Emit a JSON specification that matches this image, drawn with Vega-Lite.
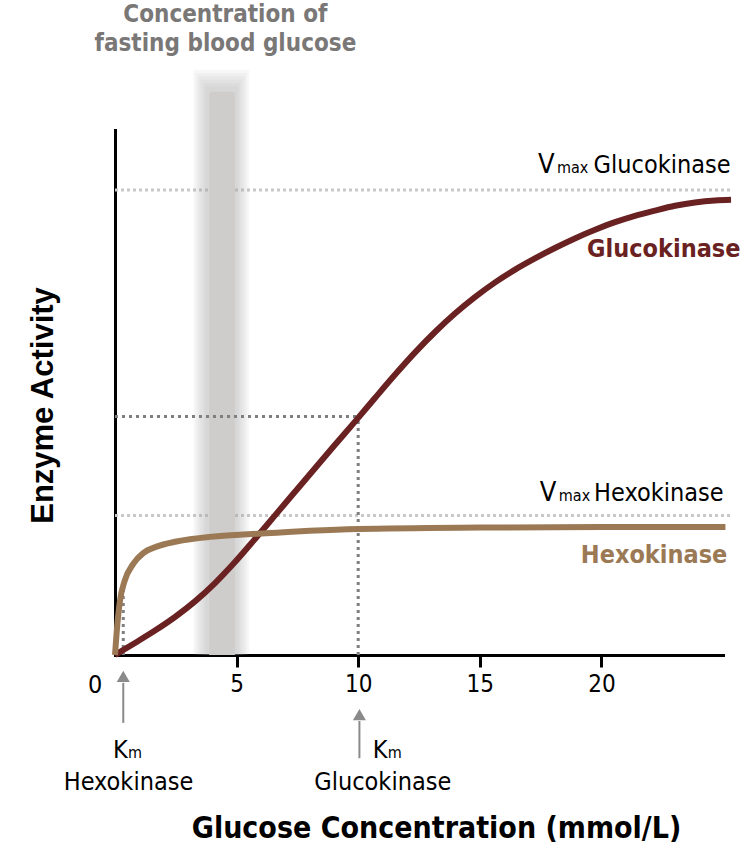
{
  "$schema": "https://vega.github.io/schema/vega-lite/v6.json",
  "width": 608,
  "height": 525,
  "autosize": {"type": "none"},
  "padding": {"left": 115, "top": 130, "right": 20, "bottom": 190},
  "background": "white",
  "config": {"view": {"stroke": null}, "font": "DejaVu Sans Condensed, DejaVu Sans"},
  "datasets": {
    "curves": [
      {"enzyme": "Glucokinase", "x": 0, "y": 0},
      {"enzyme": "Glucokinase", "x": 0.822, "y": 2.58},
      {"enzyme": "Glucokinase", "x": 1.645, "y": 5.25},
      {"enzyme": "Glucokinase", "x": 2.467, "y": 8.17},
      {"enzyme": "Glucokinase", "x": 3.289, "y": 11.53},
      {"enzyme": "Glucokinase", "x": 4.112, "y": 15.48},
      {"enzyme": "Glucokinase", "x": 4.934, "y": 20.0},
      {"enzyme": "Glucokinase", "x": 5.757, "y": 24.95},
      {"enzyme": "Glucokinase", "x": 6.579, "y": 30.02},
      {"enzyme": "Glucokinase", "x": 7.401, "y": 35.1},
      {"enzyme": "Glucokinase", "x": 8.224, "y": 40.17},
      {"enzyme": "Glucokinase", "x": 9.046, "y": 45.2},
      {"enzyme": "Glucokinase", "x": 9.868, "y": 50.19},
      {"enzyme": "Glucokinase", "x": 10.69, "y": 55.27},
      {"enzyme": "Glucokinase", "x": 11.51, "y": 60.26},
      {"enzyme": "Glucokinase", "x": 12.34, "y": 65.08},
      {"enzyme": "Glucokinase", "x": 13.16, "y": 69.46},
      {"enzyme": "Glucokinase", "x": 13.98, "y": 73.42},
      {"enzyme": "Glucokinase", "x": 14.8, "y": 76.95},
      {"enzyme": "Glucokinase", "x": 15.63, "y": 80.13},
      {"enzyme": "Glucokinase", "x": 16.45, "y": 82.88},
      {"enzyme": "Glucokinase", "x": 17.27, "y": 85.29},
      {"enzyme": "Glucokinase", "x": 18.09, "y": 87.53},
      {"enzyme": "Glucokinase", "x": 18.91, "y": 89.59},
      {"enzyme": "Glucokinase", "x": 19.74, "y": 91.44},
      {"enzyme": "Glucokinase", "x": 20.56, "y": 93.08},
      {"enzyme": "Glucokinase", "x": 21.38, "y": 94.45},
      {"enzyme": "Glucokinase", "x": 22.2, "y": 95.57},
      {"enzyme": "Glucokinase", "x": 23.03, "y": 96.6},
      {"enzyme": "Glucokinase", "x": 23.85, "y": 97.33},
      {"enzyme": "Glucokinase", "x": 24.67, "y": 97.76},
      {"enzyme": "Glucokinase", "x": 25.33, "y": 97.89},
      {"enzyme": "Hexokinase", "x": 0, "y": 0},
      {"enzyme": "Hexokinase", "x": 0.07, "y": 5},
      {"enzyme": "Hexokinase", "x": 0.2, "y": 11.5},
      {"enzyme": "Hexokinase", "x": 0.4, "y": 16},
      {"enzyme": "Hexokinase", "x": 0.75, "y": 19.6},
      {"enzyme": "Hexokinase", "x": 1.16, "y": 21.9},
      {"enzyme": "Hexokinase", "x": 1.71, "y": 23.3},
      {"enzyme": "Hexokinase", "x": 2.53, "y": 24.4},
      {"enzyme": "Hexokinase", "x": 3.9, "y": 25.4},
      {"enzyme": "Hexokinase", "x": 5.27, "y": 25.9},
      {"enzyme": "Hexokinase", "x": 6.64, "y": 26.3},
      {"enzyme": "Hexokinase", "x": 8, "y": 26.7},
      {"enzyme": "Hexokinase", "x": 10, "y": 27.1},
      {"enzyme": "Hexokinase", "x": 15, "y": 27.4},
      {"enzyme": "Hexokinase", "x": 20, "y": 27.5},
      {"enzyme": "Hexokinase", "x": 25.1, "y": 27.5}
    ],
    "guides": [
      {"kind": "vmax", "x": 0, "x2": 25.4, "y": 100, "y2": 100},
      {"kind": "vmax", "x": 0, "x2": 25.3, "y": 30, "y2": 30},
      {"kind": "km", "x": 0, "x2": 10, "y": 51.3, "y2": 51.3},
      {"kind": "km", "x": 10, "x2": 10, "y": 0, "y2": 51.3},
      {"kind": "km", "x": 0.34, "x2": 0.34, "y": 0, "y2": 15.5}
    ],
    "band": [
      {"kind": "glow", "x": 3.22, "x2": 5.52, "y": 125.8},
      {"kind": "glow", "x": 3.32, "x2": 5.42, "y": 125.1},
      {"kind": "glow", "x": 3.42, "x2": 5.32, "y": 124.4},
      {"kind": "glow", "x": 3.52, "x2": 5.22, "y": 123.7},
      {"kind": "glow", "x": 3.62, "x2": 5.13, "y": 123.0},
      {"kind": "glow", "x": 3.72, "x2": 5.05, "y": 122.3},
      {"kind": "core", "x": 3.87, "x2": 4.93, "y": 121.1}
    ],
    "arrows": [
      {"part": "shaft", "x": 0.34, "y": -14.6, "y2": -6.0},
      {"part": "head", "x": 0.34, "y": -4.6},
      {"part": "shaft", "x": 10.05, "y": -22.2, "y2": -14.2},
      {"part": "head", "x": 10.05, "y": -12.8}
    ],
    "labels": [
      {"role": "head", "x": 4.54, "y": 136.2, "label": "Concentration of"},
      {"role": "head", "x": 4.54, "y": 129.9, "label": "fasting blood glucose"},
      {"role": "bigv", "x": 17.39, "y": 103.7, "label": "V"},
      {"role": "sub", "x": 18.17, "y": 103.7, "label": "max"},
      {"role": "note", "x": 19.68, "y": 103.7, "label": "Glucokinase"},
      {"role": "bigv", "x": 17.47, "y": 33.1, "label": "V"},
      {"role": "sub", "x": 18.25, "y": 33.1, "label": "max"},
      {"role": "note", "x": 19.7, "y": 33.1, "label": "Hexokinase"},
      {"role": "gk", "x": 25.72, "y": 85.5, "label": "Glucokinase"},
      {"role": "hk", "x": 25.18, "y": 19.7, "label": "Hexokinase"},
      {"role": "note", "x": -0.08, "y": -22.15, "label": "K"},
      {"role": "sub", "x": 0.53, "y": -22.15, "label": "m"},
      {"role": "center", "x": 0.555, "y": -29.0, "label": "Hexokinase"},
      {"role": "note", "x": 10.6, "y": -22.15, "label": "K"},
      {"role": "sub", "x": 11.22, "y": -22.15, "label": "m"},
      {"role": "center", "x": 11.01, "y": -29.0, "label": "Glucokinase"},
      {"role": "center", "x": -0.82, "y": -8.2, "label": "0"}
    ]
  },
  "encoding": {
    "x": {
      "field": "x",
      "type": "quantitative",
      "scale": {"domain": [0, 25], "nice": false, "zero": false},
      "axis": {
        "values": [5, 10, 15, 20],
        "title": "Glucose Concentration (mmol/L)",
        "grid": false,
        "domainColor": "black",
        "domainWidth": 3,
        "domainCap": "square",
        "tickColor": "black",
        "tickWidth": 3,
        "tickSize": 12,
        "labelFontSize": 24,
        "labelColor": "black",
        "labelPadding": 5,
        "titleFontSize": 30,
        "titleFontWeight": "bold",
        "titleColor": "black",
        "titleX": 321,
        "titleY": 182,
        "titleBaseline": "alphabetic",
        "titleAlign": "center"
      }
    },
    "y": {
      "field": "y",
      "type": "quantitative",
      "scale": {"domain": [0, 112.9], "nice": false},
      "axis": {
        "title": "Enzyme Activity",
        "ticks": false,
        "labels": false,
        "grid": false,
        "domainColor": "black",
        "domainWidth": 3,
        "domainCap": "square",
        "titleFont": "Liberation Sans",
        "titleFontSize": 31,
        "titleFontWeight": "bold",
        "titleColor": "black",
        "titleAngle": -90,
        "titleX": -72,
        "titleY": 275,
        "titleBaseline": "middle",
        "titleAlign": "center"
      }
    }
  },
  "layer": [
    {
      "data": {"name": "guides"},
      "transform": [{"filter": "datum.kind === 'vmax'"}],
      "mark": {"type": "rule", "color": "#c8c8c8", "strokeWidth": 3, "strokeDash": [3, 3]},
      "encoding": {"x2": {"field": "x2"}, "y2": {"field": "y2"}}
    },
    {
      "data": {"name": "band"},
      "transform": [{"filter": "datum.kind === 'glow'"}],
      "mark": {"type": "rect", "color": "#aaa6a6", "opacity": 0.09},
      "encoding": {"x2": {"field": "x2"}, "y2": {"datum": 0}}
    },
    {
      "data": {"name": "band"},
      "transform": [{"filter": "datum.kind === 'core'"}],
      "mark": {"type": "rect", "color": "#cfcccc", "cornerRadiusTopLeft": 3, "cornerRadiusTopRight": 3},
      "encoding": {"x2": {"field": "x2"}, "y2": {"datum": 0}}
    },
    {
      "data": {"name": "guides"},
      "transform": [{"filter": "datum.kind === 'km'"}],
      "mark": {"type": "rule", "color": "#7f7f7f", "strokeWidth": 3, "strokeDash": [3, 4]},
      "encoding": {"x2": {"field": "x2"}, "y2": {"field": "y2"}}
    },
    {
      "data": {"name": "curves"},
      "mark": {"type": "line", "strokeWidth": 6, "interpolate": "monotone", "strokeCap": "butt"},
      "encoding": {
        "color": {
          "field": "enzyme",
          "type": "nominal",
          "scale": {"domain": ["Glucokinase", "Hexokinase"], "range": ["#6a2121", "#9b7955"]},
          "legend": null
        }
      }
    },
    {
      "data": {"name": "arrows"},
      "transform": [{"filter": "datum.part === 'shaft'"}],
      "mark": {"type": "rule", "color": "#8a8a8a", "strokeWidth": 2},
      "encoding": {"y2": {"field": "y2"}}
    },
    {
      "data": {"name": "arrows"},
      "transform": [{"filter": "datum.part === 'head'"}],
      "mark": {"type": "point", "shape": "triangle-up", "filled": true, "color": "#8a8a8a", "opacity": 1, "size": 170}
    },
    {
      "data": {"name": "labels"},
      "transform": [{"filter": "datum.role === 'head'"}],
      "mark": {"type": "text", "align": "center", "baseline": "alphabetic", "fontSize": 24, "fontWeight": "bold", "color": "#7a7777"},
      "encoding": {"text": {"field": "label", "type": "nominal"}}
    },
    {
      "data": {"name": "labels"},
      "transform": [{"filter": "datum.role === 'note'"}],
      "mark": {"type": "text", "align": "left", "baseline": "alphabetic", "fontSize": 25, "color": "black"},
      "encoding": {"text": {"field": "label", "type": "nominal"}}
    },
    {
      "data": {"name": "labels"},
      "transform": [{"filter": "datum.role === 'bigv'"}],
      "mark": {"type": "text", "align": "left", "baseline": "alphabetic", "fontSize": 27, "color": "black"},
      "encoding": {"text": {"field": "label", "type": "nominal"}}
    },
    {
      "data": {"name": "labels"},
      "transform": [{"filter": "datum.role === 'sub'"}],
      "mark": {"type": "text", "align": "left", "baseline": "alphabetic", "fontSize": 16, "color": "black"},
      "encoding": {"text": {"field": "label", "type": "nominal"}}
    },
    {
      "data": {"name": "labels"},
      "transform": [{"filter": "datum.role === 'center'"}],
      "mark": {"type": "text", "align": "center", "baseline": "alphabetic", "fontSize": 25, "color": "black"},
      "encoding": {"text": {"field": "label", "type": "nominal"}}
    },
    {
      "data": {"name": "labels"},
      "transform": [{"filter": "datum.role === 'gk'"}],
      "mark": {"type": "text", "align": "right", "baseline": "alphabetic", "fontSize": 25, "fontWeight": "bold", "color": "#6a2121"},
      "encoding": {"text": {"field": "label", "type": "nominal"}}
    },
    {
      "data": {"name": "labels"},
      "transform": [{"filter": "datum.role === 'hk'"}],
      "mark": {"type": "text", "align": "right", "baseline": "alphabetic", "fontSize": 25, "fontWeight": "bold", "color": "#9b7955"},
      "encoding": {"text": {"field": "label", "type": "nominal"}}
    }
  ]
}
